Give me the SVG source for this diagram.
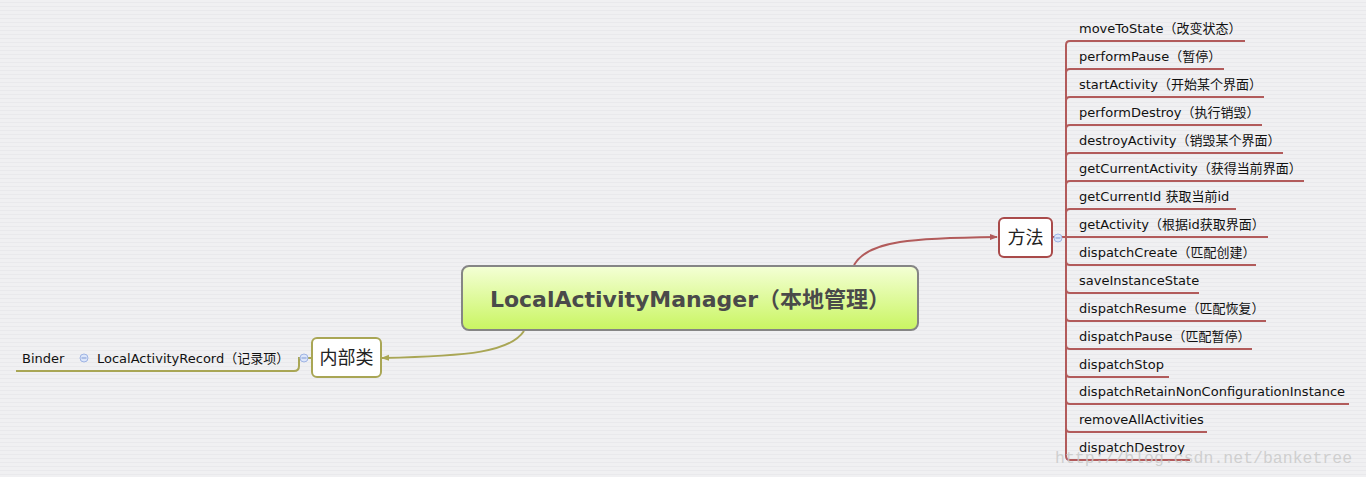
<svg xmlns="http://www.w3.org/2000/svg" width="1366" height="477" viewBox="0 0 1366 477">
<defs>
<pattern id="bg" width="8" height="4" patternUnits="userSpaceOnUse">
<rect width="8" height="4" fill="#f0f0f2"/>
<rect y="2" width="8" height="1" fill="#e9e9ec"/>
</pattern>
<linearGradient id="cg" x1="0" y1="0" x2="0" y2="1">
<stop offset="0" stop-color="#f4ffd6"/>
<stop offset="1" stop-color="#c9f561"/>
</linearGradient>
<marker id="arR" viewBox="0 0 8 8" refX="7" refY="4" markerWidth="8" markerHeight="8" markerUnits="userSpaceOnUse" orient="auto">
<path d="M0,1 L8,4 L0,7 Z" fill="#b25b5b"/>
</marker>
<marker id="arG" viewBox="0 0 8 8" refX="7" refY="4" markerWidth="8" markerHeight="8" markerUnits="userSpaceOnUse" orient="auto">
<path d="M0,1 L8,4 L0,7 Z" fill="#a9a655"/>
</marker>
</defs>
<style>
.t{font-family:"DejaVu Sans","Noto Sans CJK TC",sans-serif;font-size:13px;fill:#111}
.red{fill:none;stroke:#b25b5b;stroke-width:2}
.olive{fill:none;stroke:#a9a655;stroke-width:2}
.tog{fill:#dce6fa;stroke:#9fb4e4;stroke-width:1}
.togm{stroke:#7f96d0;stroke-width:1}
.nt{font-family:"Noto Sans CJK SC","DejaVu Sans",sans-serif;font-size:18px;fill:#222;text-anchor:middle}
</style>
<rect width="1366" height="477" fill="url(#bg)"/>

<g id="connectors">
<path class="red" d="M854,265 C868,240 915,238 997,237" marker-end="url(#arR)"/>
<path class="olive" d="M524,331 C510,352 470,356 382,358" marker-end="url(#arG)"/>
<path class="red" d="M1052,237 H1066"/>
<path class="red" d="M1066,45 V456"/>
<path class="red" d="M1066,45 Q1066,41 1070,41 H1245"/>
<path class="red" d="M1066,73 Q1066,69 1070,69 H1224"/>
<path class="red" d="M1066,101 Q1066,97 1070,97 H1264"/>
<path class="red" d="M1066,129 Q1066,125 1070,125 H1262"/>
<path class="red" d="M1066,157 Q1066,153 1070,153 H1283"/>
<path class="red" d="M1066,185 Q1066,181 1070,181 H1304"/>
<path class="red" d="M1066,213 Q1066,209 1070,209 H1236"/>
<path class="red" d="M1066,237 H1268"/>
<path class="red" d="M1066,261 Q1066,265 1070,265 H1256"/>
<path class="red" d="M1066,289 Q1066,293 1070,293 H1199"/>
<path class="red" d="M1066,317 Q1066,321 1070,321 H1266"/>
<path class="red" d="M1066,345 Q1066,349 1070,349 H1252"/>
<path class="red" d="M1066,373 Q1066,377 1070,377 H1169"/>
<path class="red" d="M1066,400 Q1066,404 1070,404 H1349"/>
<path class="red" d="M1066,428 Q1066,432 1070,432 H1207"/>
<path class="red" d="M1066,456 Q1066,460 1070,460 H1190"/>
<path class="olive" d="M312,358 H299 V366 Q299,371 294,371 H16"/>
</g>

<g id="node-center">
<rect x="462" y="266" width="456" height="64" rx="7" fill="url(#cg)" stroke="#858585" stroke-width="2"/>
<text x="690" y="307" text-anchor="middle" font-family="DejaVu Sans, Noto Sans CJK TC, sans-serif" font-size="22" font-weight="bold" fill="#4a4a4a">LocalActivityManager（本地管理）</text>
</g>

<g id="node-methods">
<rect x="999" y="218" width="53" height="39" rx="5" fill="#fff" stroke="#a94a4a" stroke-width="2"/>
<text class="nt" x="1025.5" y="244">方法</text>
<circle class="tog" cx="1058" cy="238" r="4"/>
<line class="togm" x1="1055.5" y1="238" x2="1060.5" y2="238"/>
</g>

<g id="node-inner">
<rect x="312" y="338" width="69" height="39" rx="5" fill="#fff" stroke="#a9a655" stroke-width="2"/>
<text class="nt" x="346.5" y="364">内部类</text>
<circle class="tog" cx="304" cy="358" r="4"/>
<line class="togm" x1="301.5" y1="358" x2="306.5" y2="358"/>
</g>

<g id="node-record">
<text class="t" x="97" y="363">LocalActivityRecord（记录项）</text>
<circle class="tog" cx="84" cy="358" r="4"/>
<line class="togm" x1="81.5" y1="358" x2="86.5" y2="358"/>
</g>

<g id="node-binder">
<text class="t" x="22" y="363">Binder</text>
</g>

<g id="methods-list">
<g id="m1"><text class="t" x="1079" y="33">moveToState（改变状态）</text></g>
<g id="m2"><text class="t" x="1079" y="61">performPause（暂停）</text></g>
<g id="m3"><text class="t" x="1079" y="89">startActivity（开始某个界面）</text></g>
<g id="m4"><text class="t" x="1079" y="117">performDestroy（执行销毁）</text></g>
<g id="m5"><text class="t" x="1079" y="145">destroyActivity（销毁某个界面）</text></g>
<g id="m6"><text class="t" x="1079" y="173">getCurrentActivity（获得当前界面）</text></g>
<g id="m7"><text class="t" x="1079" y="201">getCurrentId 获取当前id</text></g>
<g id="m8"><text class="t" x="1079" y="229">getActivity（根据id获取界面）</text></g>
<g id="m9"><text class="t" x="1079" y="257">dispatchCreate（匹配创建）</text></g>
<g id="m10"><text class="t" x="1079" y="285">saveInstanceState</text></g>
<g id="m11"><text class="t" x="1079" y="313">dispatchResume（匹配恢复）</text></g>
<g id="m12"><text class="t" x="1079" y="341">dispatchPause（匹配暂停）</text></g>
<g id="m13"><text class="t" x="1079" y="369">dispatchStop</text></g>
<g id="m14"><text class="t" x="1079" y="396">dispatchRetainNonConfigurationInstance</text></g>
<g id="m15"><text class="t" x="1079" y="424">removeAllActivities</text></g>
<g id="m16"><text class="t" x="1079" y="452">dispatchDestroy</text></g>
</g>

<text x="1055" y="463" font-family="Liberation Mono, monospace" font-size="16.5" fill="#c9c9c9" fill-opacity="0.85">http://blog.csdn.net/banketree</text>
</svg>
